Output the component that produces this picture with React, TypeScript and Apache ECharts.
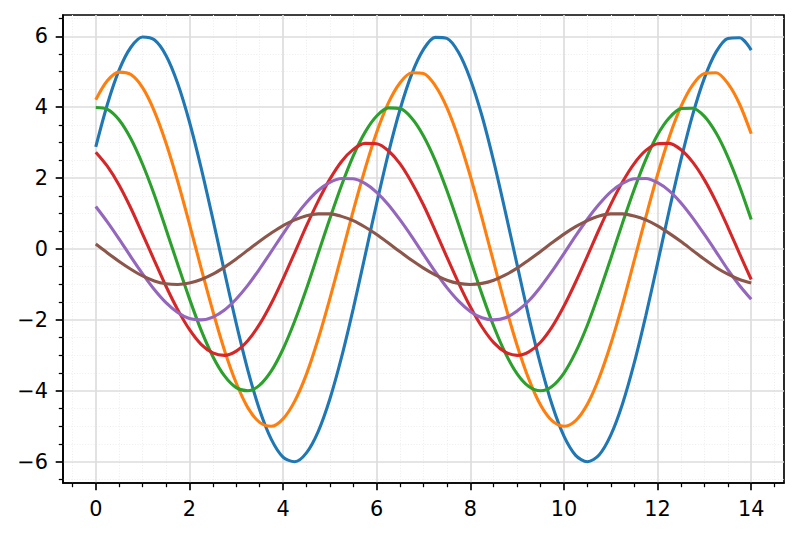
import React, { useEffect, useRef } from "react";
import * as echarts from "echarts";

const xValues = [
  0, 0.25, 0.5, 0.75, 1, 1.25, 1.5, 1.75, 2, 2.25, 2.5, 2.75, 3, 3.25, 3.5, 3.75, 4, 4.25, 4.5, 4.75,
  5, 5.25, 5.5, 5.75, 6, 6.25, 6.5, 6.75, 7, 7.25, 7.5, 7.75, 8, 8.25, 8.5, 8.75, 9, 9.25, 9.5, 9.75,
  10, 10.25, 10.5, 10.75, 11, 11.25, 11.5, 11.75, 12, 12.25, 12.5, 12.75, 13, 13.25, 13.5, 13.75, 14,
];

const blue = [
  2.88, 4.09, 5.05, 5.69, 5.98, 5.9, 5.46, 4.67, 3.59, 2.29, 0.85, -0.65, -2.1, -3.43, -4.54, -5.37, -5.87, -6.0, -5.75, -5.15,
  -4.23, -3.05, -1.68, -0.2, 1.29, 2.7, 3.94, 4.94, 5.63, 5.97, 5.94, 5.54, 4.79, 3.75, 2.47, 1.04, -0.45, -1.92, -3.26, -4.41,
  -5.28, -5.82, -6.0, -5.81, -5.25, -4.37, -3.22, -1.87, -0.4, 1.1, 2.52, 3.79, 4.82, 5.56, 5.94, 5.96, 5.61,
];
const orange = [
  4.21, 4.75, 4.99, 4.92, 4.55, 3.89, 2.99, 1.91, 0.71, -0.54, -1.75, -2.86, -3.78, -4.48, -4.89, -5.0, -4.79, -4.29, -3.53, -2.54,
  -1.4, -0.17, 1.08, 2.25, 3.29, 4.12, 4.69, 4.97, 4.95, 4.61, 3.99, 3.12, 2.06, 0.87, -0.38, -1.6, -2.72, -3.67, -4.4, -4.85,
  -5.0, -4.84, -4.38, -3.64, -2.68, -1.56, -0.33, 0.91, 2.1, 3.16, 4.02, 4.63, 4.95, 4.97, 4.67, 4.09, 3.25,
];
const green = [
  3.99, 3.94, 3.64, 3.11, 2.39, 1.53, 0.56, -0.43, -1.4, -2.29, -3.03, -3.58, -3.91, -4.0, -3.84, -3.44, -2.82, -2.03, -1.12, -0.13,
  0.86, 1.8, 2.63, 3.29, 3.75, 3.98, 3.96, 3.69, 3.19, 2.5, 1.65, 0.7, -0.3, -1.28, -2.18, -2.94, -3.52, -3.88, -4.0, -3.87,
  -3.5, -2.91, -2.15, -1.24, -0.27, 0.73, 1.68, 2.53, 3.22, 3.7, 3.96, 3.97, 3.74, 3.27, 2.6, 1.77, 0.83,
];
const red = [
  2.73, 2.33, 1.8, 1.15, 0.42, -0.32, -1.05, -1.71, -2.27, -2.69, -2.93, -3.0, -2.88, -2.58, -2.12, -1.53, -0.84, -0.1, 0.65, 1.35,
  1.97, 2.47, 2.81, 2.98, 2.97, 2.77, 2.4, 1.87, 1.24, 0.52, -0.23, -0.96, -1.63, -2.2, -2.64, -2.91, -3.0, -2.9, -2.63, -2.19,
  -1.61, -0.93, -0.2, 0.55, 1.26, 1.89, 2.41, 2.78, 2.97, 2.98, 2.8, 2.45, 1.95, 1.33, 0.62, -0.13, -0.86,
];
const purple = [
  1.2, 0.76, 0.28, -0.22, -0.7, -1.14, -1.51, -1.79, -1.96, -2.0, -1.92, -1.72, -1.41, -1.02, -0.56, -0.07, 0.43, 0.9, 1.31, 1.65,
  1.88, 1.99, 1.98, 1.85, 1.6, 1.25, 0.82, 0.35, -0.15, -0.64, -1.09, -1.47, -1.76, -1.94, -2.0, -1.94, -1.75, -1.46, -1.07, -0.62,
  -0.13, 0.37, 0.84, 1.26, 1.61, 1.85, 1.98, 1.99, 1.87, 1.64, 1.3, 0.88, 0.41, -0.08, -0.58, -1.03, -1.42,
];
const brown = [
  0.14, -0.11, -0.35, -0.57, -0.76, -0.9, -0.98, -1.0, -0.96, -0.86, -0.71, -0.51, -0.28, -0.03, 0.22, 0.45, 0.66, 0.82, 0.94, 0.99,
  0.99, 0.92, 0.8, 0.62, 0.41, 0.17, -0.08, -0.32, -0.54, -0.73, -0.88, -0.97, -1.0, -0.97, -0.88, -0.73, -0.54, -0.31, -0.07, 0.18,
  0.42, 0.63, 0.8, 0.93, 0.99, 0.99, 0.93, 0.82, 0.65, 0.44, 0.21, -0.04, -0.29, -0.52, -0.71, -0.86, -0.96,
];

const seriesList = [blue, orange, green, red, purple, brown];
const colors = ["#1f77b4", "#ff7f0e", "#2ca02c", "#d62728", "#9467bd", "#8c564b"];

const xMajorTicks = [0, 2, 4, 6, 8, 10, 12, 14];
const xMinorTicks = [-0.5, 0.5, 1, 1.5, 2.5, 3, 3.5, 4.5, 5, 5.5, 6.5, 7, 7.5, 8.5, 9, 9.5, 10.5, 11, 11.5, 12.5, 13, 13.5, 14.5];
const yMajorTicks = [-6, -4, -2, 0, 2, 4, 6];
const yMinorTicks = [-6.5, -5.5, -5, -4.5, -3.5, -3, -2.5, -1.5, -1, -0.5, 0.5, 1, 1.5, 2.5, 3, 3.5, 4.5, 5, 5.5, 6.5];

const X_MIN = -0.7, X_MAX = 14.7, Y_MIN = -6.6, Y_MAX = 6.6;

const fmt = (v: number) => (v < 0 ? "\u2212" + Math.abs(v) : String(v));
const FONT = "DejaVu Sans";
const FONT_SIZE = 20.8;

function majorAxis(kind: "x" | "y", ticks: number[]) {
  return {
    type: "value",
    min: kind === "x" ? X_MIN : Y_MIN,
    max: kind === "x" ? X_MAX : Y_MAX,
    position: kind === "x" ? "bottom" : "left",
    axisLine: { show: true, onZero: false, lineStyle: { color: "#000", width: 1.67 } },
    axisTick: { show: true, customValues: ticks, length: 7.3, lineStyle: { color: "#000", width: 1.67 } },
    axisLabel: {
      show: true,
      customValues: ticks,
      formatter: fmt,
      fontFamily: FONT,
      fontSize: FONT_SIZE,
      color: "#000",
      margin: kind === "x" ? 15 : 15,
    },
    splitLine: { show: true, lineStyle: { color: "#dddddd", width: 1.67 } },
    minorTick: { show: false },
    minorSplitLine: { show: false },
    z: 2,
  };
}

function minorAxis(kind: "x" | "y", ticks: number[]) {
  return {
    type: "value",
    min: kind === "x" ? X_MIN : Y_MIN,
    max: kind === "x" ? X_MAX : Y_MAX,
    position: kind === "x" ? "bottom" : "left",
    offset: 0,
    axisLine: { show: false, onZero: false },
    axisTick: { show: true, customValues: ticks, length: 4.2, lineStyle: { color: "#000", width: 1.25 } },
    axisLabel: { show: false, customValues: ticks },
    splitLine: { show: true, lineStyle: { color: "#eeeeee", width: 1.04, type: [1.04, 1.72] } },
    z: 1,
  };
}

export default function App() {
  const ref = useRef<HTMLDivElement>(null);
  useEffect(() => {
    if (!ref.current) return;
    const chart = echarts.init(ref.current, null, { renderer: "svg" });
    chart.setOption({
      animation: false,
      backgroundColor: "#fff",
      textStyle: { fontFamily: FONT, fontSize: FONT_SIZE },
      grid: {
        left: 63,
        top: 15,
        right: 15,
        bottom: 53,
        show: true,
        borderColor: "#000",
        borderWidth: 1.67,
        backgroundColor: "transparent",
      },
      xAxis: [majorAxis("x", xMajorTicks), minorAxis("x", xMinorTicks)],
      yAxis: [majorAxis("y", yMajorTicks), minorAxis("y", yMinorTicks)],
      series: seriesList.map((vals, i) => ({
        type: "line",
        xAxisIndex: 0,
        yAxisIndex: 0,
        data: xValues.map((x, j) => [x, vals[j]]),
        showSymbol: false,
        smooth: 0.3,
        lineStyle: { color: colors[i], width: 3.1 },
        itemStyle: { color: colors[i] },
        z: 3,
      })),
    });
    return () => chart.dispose();
  }, []);
  return (
    <div
      ref={ref}
      style={{ position: "fixed", left: 0, top: 0, width: 799, height: 536 }}
    />
  );
}
